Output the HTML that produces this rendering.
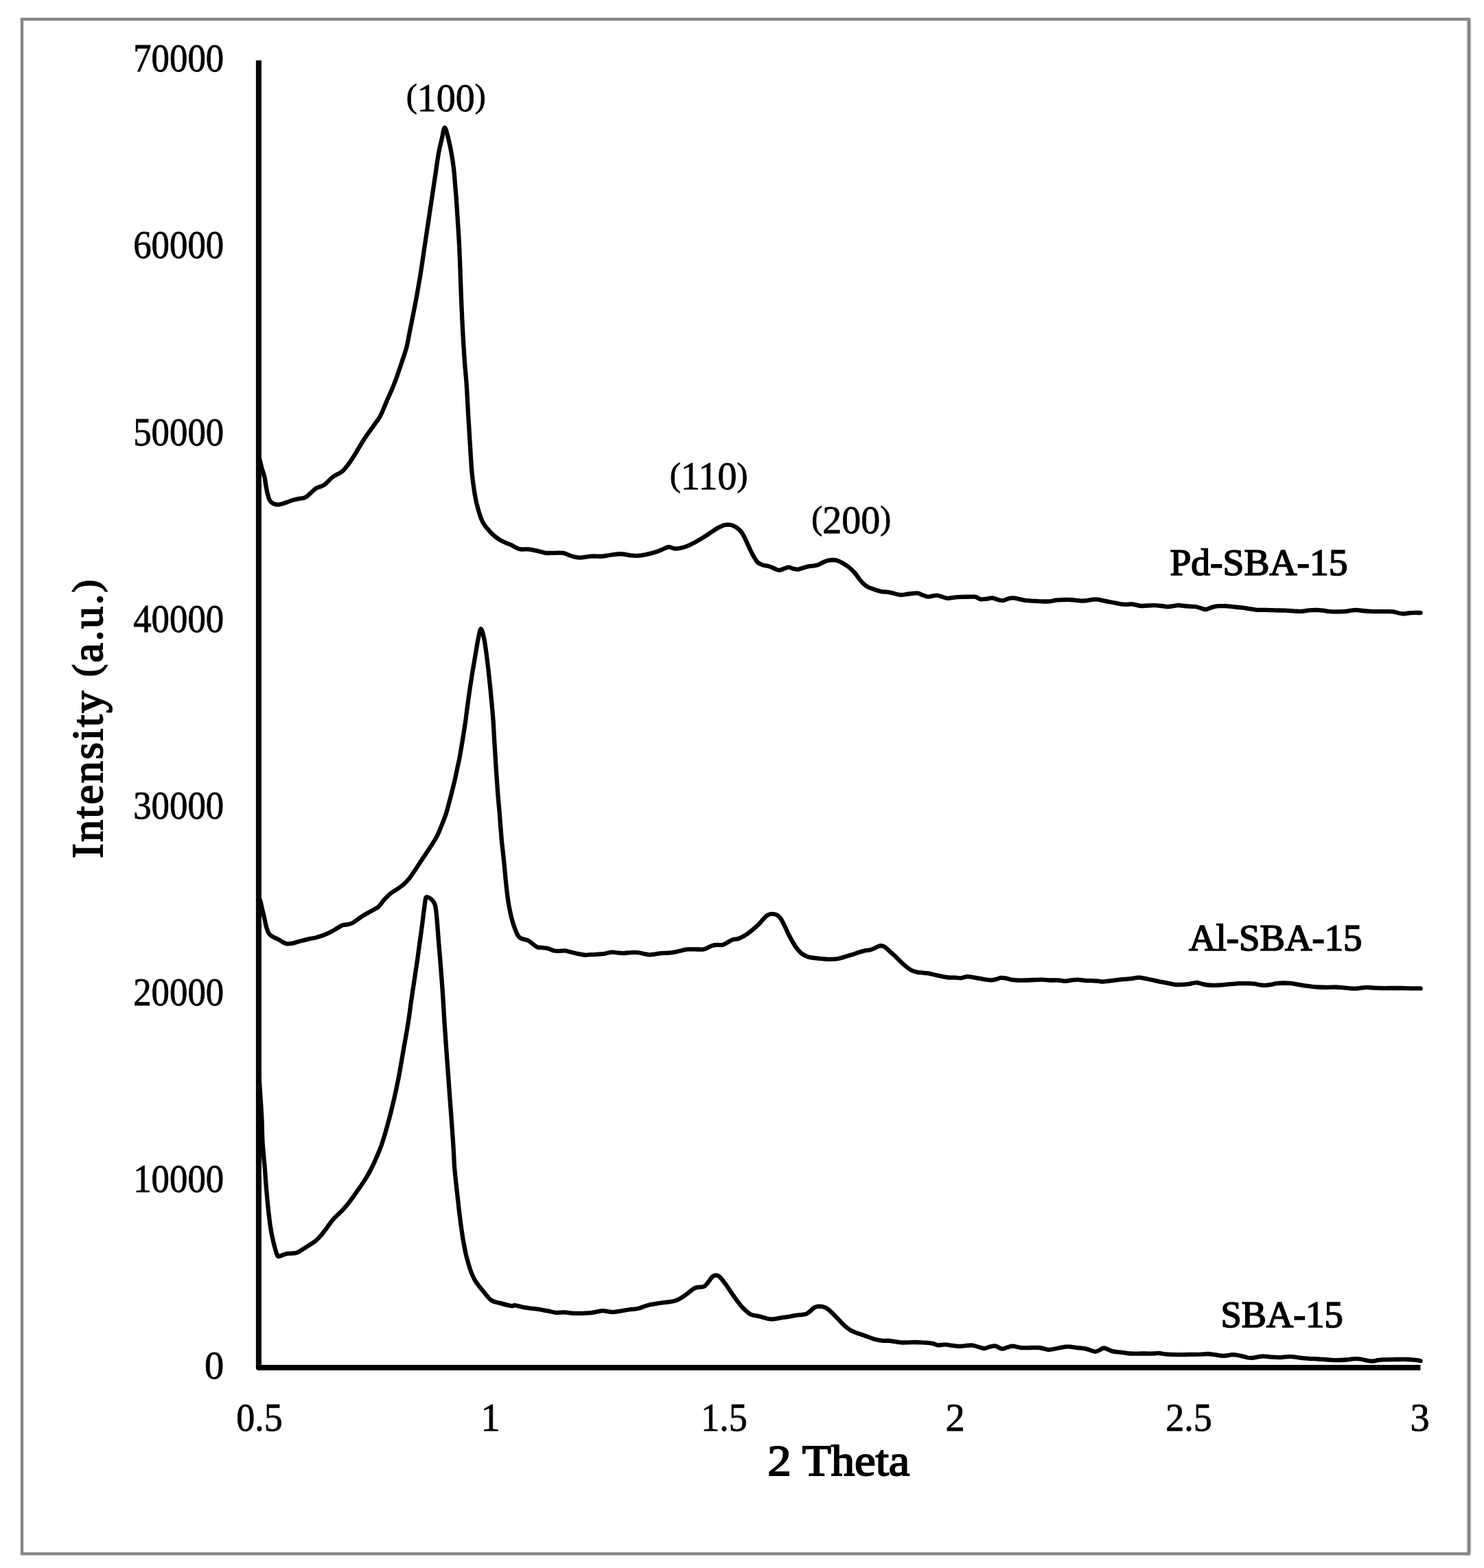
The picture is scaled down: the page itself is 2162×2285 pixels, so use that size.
<!DOCTYPE html>
<html lang="en"><head><meta charset="utf-8"><title>XRD patterns</title>
<style>html,body{margin:0;padding:0;background:#fff}svg{display:block}text{font-family:'Liberation Serif', 'DejaVu Serif', serif;fill:#000}.tick{font-size:56.5px;stroke:#000;stroke-width:0.8px}.pk{font-size:56px;stroke:#000;stroke-width:0.8px}.par{font-size:48px}.tpar{font-size:55px}.lbl{font-size:54.5px;stroke:#000;stroke-width:1.7px}.ttl{font-size:64px;stroke:#000;stroke-width:2px}.crv{fill:none;stroke:#000;stroke-width:6.3;stroke-linecap:round;stroke-linejoin:round}</style></head><body>
<svg xmlns="http://www.w3.org/2000/svg" width="2162" height="2285" viewBox="0 0 2162 2285">
<rect x="0" y="0" width="2162" height="2285" fill="#fff"/>
<line x1="2140" y1="28" x2="2140" y2="2264" stroke="#dcdcdc" stroke-width="7.4"/><rect x="32" y="28" width="2108" height="2236.3" fill="none" stroke="#858585" stroke-width="4.3"/>
<path class="crv" d="M376.7,664.0C376.9,664.8 377.3,665.7 378.1,668.8C378.9,671.9 380.4,678.1 381.6,682.5C382.8,686.9 384.4,691.0 385.4,695.3C386.4,699.6 386.7,703.8 387.5,708.1C388.3,712.4 389.2,717.5 390.1,720.9C391.0,724.3 391.7,726.6 392.6,728.5C393.5,730.4 394.2,731.1 395.6,732.2C397.0,733.3 399.1,734.3 400.9,734.9C402.7,735.4 404.3,735.6 406.2,735.4C408.2,735.2 410.3,734.5 412.6,733.8C415.0,733.1 417.6,732.0 420.1,731.1C422.6,730.2 425.1,729.2 427.6,728.5C430.1,727.8 432.5,727.3 435.0,726.9C437.5,726.4 440.5,726.3 442.5,725.8C444.4,725.3 445.2,724.8 446.8,723.7C448.4,722.5 450.3,720.5 452.1,718.9C453.9,717.3 455.8,715.4 457.4,714.1C459.0,712.7 459.9,711.8 461.7,710.9C463.5,710.0 466.3,709.5 468.1,708.7C469.9,708.0 470.7,707.8 472.3,706.6C473.9,705.5 475.9,703.5 477.7,701.8C479.5,700.1 481.4,697.9 483.0,696.5C484.6,695.1 485.7,694.3 487.3,693.3C488.9,692.3 490.8,691.6 492.6,690.6C494.4,689.6 496.2,688.8 497.9,687.4C499.7,686.0 501.5,684.1 503.3,682.1C505.0,680.0 506.8,677.6 508.6,675.2C510.4,672.7 512.1,669.9 513.9,667.2C515.7,664.4 517.5,661.6 519.3,658.6C521.0,655.7 522.8,652.5 524.6,649.6C526.4,646.6 528.1,643.8 529.9,641.0C531.7,638.3 533.5,635.6 535.2,633.0C537.0,630.5 538.8,628.1 540.6,625.6C542.4,623.1 544.1,620.6 545.9,618.1C547.7,615.6 549.6,613.1 551.2,610.7C552.8,608.2 553.3,608.0 555.5,603.2C557.7,598.4 561.4,589.2 564.5,582.0C567.6,574.8 570.6,568.9 574.1,559.9C577.6,550.9 582.3,536.8 585.3,527.9C588.3,519.0 590.3,513.7 592.2,506.6C594.1,499.5 594.4,496.0 596.5,485.3C598.6,474.6 602.3,456.8 605.0,442.6C607.7,428.4 610.5,412.1 612.5,400.0C614.5,387.9 615.8,378.1 617.0,370.0C618.2,361.9 618.5,359.6 619.8,351.2C621.1,342.8 623.0,329.9 624.6,319.3C626.2,308.7 627.8,298.0 629.4,287.3C631.0,276.6 632.6,266.0 634.2,255.3C635.8,244.6 637.4,232.2 639.0,223.3C640.6,214.4 642.3,208.2 643.8,202.0C645.3,195.8 646.3,186.0 647.9,186.0C649.5,186.0 651.6,195.8 653.2,202.0C654.8,208.2 656.4,216.2 657.7,223.3C659.0,230.4 660.0,237.5 660.9,244.6C661.8,251.7 662.2,258.8 662.8,265.9C663.4,273.0 664.0,278.4 664.6,287.3C665.2,296.2 666.0,308.7 666.7,319.3C667.4,329.9 668.1,340.1 668.7,351.0C669.3,361.9 669.8,374.3 670.2,385.0C670.6,395.7 670.9,405.3 671.2,415.0C671.6,424.7 671.8,431.3 672.3,443.0C672.8,454.7 673.5,470.8 674.3,485.0C675.1,499.2 676.1,515.5 677.0,528.0C677.9,540.5 678.9,548.0 679.7,560.0C680.5,572.0 681.3,589.8 681.9,600.0C682.5,610.2 682.7,614.2 683.2,621.3C683.6,628.4 684.1,635.5 684.5,642.6C685.0,649.8 685.4,656.9 685.8,664.0C686.3,671.1 686.7,679.1 687.2,685.3C687.7,691.5 688.4,695.9 689.0,701.3C689.7,706.6 690.3,711.9 691.2,717.3C692.0,722.6 693.2,728.3 694.3,733.3C695.5,738.2 696.8,743.0 698.1,747.1C699.3,751.2 700.4,754.6 701.8,757.8C703.2,761.0 704.7,763.6 706.6,766.3C708.5,769.0 710.7,771.3 713.0,773.8C715.3,776.3 718.0,779.1 720.5,781.2C723.0,783.4 725.3,785.0 727.9,786.6C730.6,788.2 733.6,789.6 736.5,790.8C739.3,792.1 742.7,793.2 745.0,794.2C747.2,795.3 747.7,796.2 750.0,797.2C752.3,798.3 755.3,799.9 758.5,800.4C761.7,801.0 765.3,800.1 769.2,800.4C773.1,800.8 777.7,801.7 782.0,802.6C786.2,803.4 790.5,805.2 794.8,805.8C799.0,806.3 803.3,805.8 807.6,805.8C811.8,805.8 816.8,805.2 820.4,805.8C823.9,806.3 826.0,808.0 828.9,809.0C831.7,810.0 834.6,811.1 837.4,811.7C840.3,812.3 842.8,812.7 845.9,812.6C849.1,812.5 853.4,811.4 856.6,811.1C859.8,810.7 861.6,810.5 865.1,810.4C868.7,810.4 874.0,810.9 877.9,810.7C881.8,810.4 885.0,809.5 888.6,809.0C892.1,808.4 896.1,807.7 899.3,807.5C902.5,807.2 904.6,807.1 907.8,807.5C911.0,807.8 914.9,809.0 918.4,809.4C922.0,809.8 925.6,810.0 929.1,809.8C932.7,809.6 935.9,809.1 939.8,808.3C943.7,807.6 948.6,806.5 952.6,805.3C956.5,804.2 959.7,802.8 963.2,801.5C966.8,800.1 970.7,797.6 973.9,797.2C977.1,796.9 979.6,799.1 982.4,799.4C985.3,799.6 987.7,799.5 990.9,798.9C994.1,798.3 998.0,797.2 1001.6,795.7C1005.2,794.3 1008.4,792.5 1012.3,790.4C1016.2,788.3 1021.1,785.4 1025.1,782.9C1029.0,780.5 1032.2,778.2 1035.7,775.9C1039.3,773.6 1043.2,770.9 1046.4,769.1C1049.6,767.3 1052.4,766.0 1054.9,765.2C1057.4,764.5 1059.2,764.5 1061.3,764.6C1063.4,764.7 1065.6,765.1 1067.7,765.9C1069.8,766.7 1072.0,767.8 1074.1,769.5C1076.2,771.2 1078.5,773.2 1080.5,775.9C1082.4,778.6 1084.0,781.9 1085.8,785.5C1087.6,789.1 1089.2,793.1 1091.2,797.2C1093.1,801.3 1095.4,806.3 1097.5,810.0C1099.7,813.8 1101.6,817.4 1103.9,819.6C1106.3,821.9 1108.8,822.5 1111.7,823.5C1114.6,824.4 1118.3,824.6 1121.3,825.6C1124.3,826.5 1127.5,828.3 1129.9,829.2C1132.2,830.1 1133.0,831.0 1135.2,830.9C1137.3,830.8 1140.3,829.3 1142.6,828.6C1145.0,827.9 1146.9,826.7 1149.0,826.7C1151.2,826.7 1153.3,828.0 1155.4,828.6C1157.6,829.1 1159.7,829.9 1161.8,829.9C1164.0,829.8 1165.7,828.9 1168.2,828.1C1170.7,827.4 1173.9,826.2 1176.8,825.6C1179.6,825.0 1182.8,824.9 1185.3,824.5C1187.8,824.1 1189.2,824.2 1191.7,823.2C1194.2,822.3 1197.7,820.0 1200.2,819.0C1202.7,817.9 1204.5,817.3 1206.6,816.8C1208.7,816.3 1210.9,816.0 1213.0,816.0C1215.1,816.0 1216.9,816.1 1219.4,816.8C1221.9,817.6 1225.1,819.1 1227.9,820.7C1230.8,822.3 1233.6,824.1 1236.5,826.4C1239.3,828.7 1242.5,831.8 1245.0,834.5C1247.5,837.3 1249.3,840.4 1251.4,843.1C1253.5,845.7 1255.7,848.5 1257.8,850.5C1259.9,852.6 1261.7,853.9 1264.2,855.2C1266.7,856.6 1269.5,857.5 1272.7,858.6C1275.9,859.7 1279.5,861.1 1283.4,861.8C1287.3,862.6 1292.6,862.7 1296.2,863.3C1299.7,863.9 1301.8,864.9 1304.7,865.5C1307.5,866.1 1310.0,867.0 1313.2,867.0C1316.4,867.0 1320.0,865.9 1323.9,865.5C1327.8,865.0 1333.1,864.0 1336.7,864.4C1340.2,864.7 1342.5,866.7 1345.2,867.6C1347.9,868.5 1349.5,869.7 1352.7,869.7C1355.9,869.7 1361.0,867.6 1364.4,867.6C1367.8,867.6 1370.3,869.0 1372.9,869.7C1375.6,870.4 1377.2,871.7 1380.4,871.9C1383.6,872.0 1388.4,870.7 1392.1,870.4C1395.8,870.0 1398.1,870.0 1402.8,869.9C1407.4,869.8 1415.7,869.2 1420.0,869.7C1424.3,870.2 1425.7,872.6 1428.5,873.1C1431.4,873.6 1434.2,873.1 1437.1,872.8C1439.9,872.5 1442.7,871.2 1445.6,871.4C1448.4,871.6 1451.6,873.3 1454.1,874.0C1456.7,874.6 1458.4,875.4 1460.9,875.2C1463.5,874.9 1466.9,872.9 1469.5,872.3C1472.0,871.6 1473.7,871.3 1476.3,871.4C1478.8,871.5 1482.0,872.5 1484.8,873.1C1487.7,873.7 1490.2,874.4 1493.3,874.8C1496.5,875.2 1500.2,875.4 1503.6,875.7C1507.0,875.9 1510.4,876.0 1513.8,876.2C1517.2,876.3 1521.2,876.5 1524.1,876.5C1526.9,876.5 1528.3,876.5 1530.9,876.2C1533.4,875.8 1536.3,874.8 1539.4,874.5C1542.5,874.1 1546.2,874.1 1549.6,874.0C1553.0,873.9 1556.7,873.8 1559.9,874.0C1563.0,874.1 1565.6,874.5 1568.4,874.8C1571.2,875.1 1574.1,875.7 1576.9,875.7C1579.8,875.7 1582.9,875.2 1585.5,874.8C1588.0,874.5 1590.0,873.8 1592.3,873.6C1594.6,873.4 1596.5,873.3 1599.1,873.6C1601.7,873.9 1604.8,874.8 1607.6,875.3C1610.5,875.9 1613.3,876.5 1616.2,877.0C1619.0,877.6 1621.8,878.2 1624.7,878.7C1627.5,879.3 1630.7,880.1 1633.2,880.4C1635.8,880.8 1637.5,880.8 1640.0,880.8C1642.6,880.8 1646.0,880.3 1648.6,880.4C1651.1,880.6 1653.1,881.2 1655.4,881.6C1657.7,882.1 1659.4,882.9 1662.2,883.0C1665.1,883.1 1669.0,882.6 1672.5,882.5C1675.9,882.4 1679.3,882.1 1682.7,882.2C1686.1,882.2 1689.8,882.7 1692.9,883.0C1696.0,883.3 1698.6,884.2 1701.4,884.2C1704.3,884.2 1707.4,883.4 1710.0,883.0C1712.5,882.6 1714.2,882.0 1716.8,882.0C1719.4,882.0 1722.5,882.7 1725.3,883.0C1728.2,883.3 1731.2,883.5 1733.9,883.7C1736.6,883.9 1738.9,883.6 1741.5,884.0C1744.1,884.4 1746.9,885.6 1749.5,886.3C1752.1,887.0 1754.1,888.3 1757.0,888.0C1759.9,887.7 1763.8,885.4 1766.8,884.6C1769.9,883.8 1772.2,883.4 1775.4,883.2C1778.5,883.0 1782.2,883.0 1785.6,883.2C1789.0,883.4 1792.1,883.9 1795.8,884.2C1799.5,884.6 1803.8,885.0 1807.8,885.4C1811.7,885.9 1815.7,886.6 1819.7,887.1C1823.7,887.7 1827.4,888.6 1831.6,888.8C1835.9,889.1 1840.7,888.8 1845.3,888.8C1849.8,888.9 1854.4,889.2 1858.9,889.4C1863.5,889.5 1868.0,889.5 1872.6,889.7C1877.1,889.9 1882.2,890.4 1886.2,890.6C1890.2,890.8 1893.0,891.1 1896.5,890.9C1899.9,890.7 1903.3,889.7 1906.7,889.4C1910.1,889.0 1913.5,888.8 1916.9,888.8C1920.3,888.9 1923.8,889.3 1927.2,889.7C1930.6,890.1 1934.0,890.8 1937.4,891.1C1940.8,891.4 1944.2,891.4 1947.6,891.4C1951.0,891.4 1954.5,891.4 1957.9,891.1C1961.3,890.8 1965.3,890.1 1968.1,889.7C1970.9,889.3 1972.1,888.8 1974.9,888.8C1977.8,888.9 1981.7,889.7 1985.2,890.0C1988.6,890.4 1991.7,890.7 1995.4,890.9C1999.1,891.1 2003.4,891.0 2007.3,891.1C2011.3,891.1 2015.6,891.0 2019.3,891.1C2023.0,891.1 2026.4,891.0 2029.5,891.4C2032.6,891.8 2035.5,892.9 2038.0,893.5C2040.6,894.0 2042.6,894.5 2044.9,894.5C2047.1,894.5 2049.1,893.7 2051.7,893.5C2054.2,893.2 2057.2,892.8 2060.2,892.8C2063.2,892.7 2068.0,893.1 2069.6,893.1"/>
<path class="crv" d="M376.9,1306.1C377.4,1307.6 379.0,1312.0 379.9,1315.4C380.8,1318.8 381.5,1322.9 382.4,1326.5C383.2,1330.1 384.3,1333.7 385.0,1336.8C385.7,1339.9 386.1,1342.8 386.7,1345.3C387.3,1347.8 387.7,1349.8 388.4,1352.1C389.1,1354.4 389.9,1357.1 390.9,1358.9C391.9,1360.8 392.9,1362.0 394.3,1363.2C395.7,1364.4 397.6,1365.3 399.5,1366.2C401.4,1367.1 403.4,1367.6 405.4,1368.7C407.4,1369.8 409.3,1371.5 411.4,1372.6C413.5,1373.7 415.5,1375.0 418.2,1375.3C420.9,1375.6 424.2,1375.0 427.6,1374.3C430.9,1373.7 434.7,1372.1 438.2,1371.2C441.8,1370.2 445.3,1369.4 448.9,1368.6C452.4,1367.8 456.0,1367.3 459.6,1366.5C463.1,1365.6 466.7,1364.6 470.2,1363.3C473.8,1361.9 477.3,1360.3 480.9,1358.6C484.4,1356.8 488.5,1354.3 491.5,1352.6C494.6,1350.9 496.2,1349.3 499.0,1348.3C501.8,1347.4 505.9,1347.6 508.6,1346.8C511.3,1346.1 512.1,1345.8 515.0,1344.1C517.8,1342.4 522.1,1338.9 525.7,1336.6C529.2,1334.3 532.0,1332.7 536.3,1330.2C540.6,1327.7 547.7,1324.3 551.3,1321.5C554.9,1318.7 555.6,1316.0 557.7,1313.5C559.8,1311.0 561.9,1308.7 564.1,1306.5C566.3,1304.3 568.5,1302.3 571.0,1300.5C573.5,1298.7 576.1,1297.5 579.0,1295.5C581.9,1293.5 585.3,1291.2 588.3,1288.5C591.2,1285.8 594.1,1282.9 596.7,1279.6C599.3,1276.3 601.5,1272.9 604.1,1268.9C606.8,1265.0 609.8,1260.2 612.6,1255.9C615.5,1251.6 618.4,1247.3 621.2,1243.0C624.1,1238.7 627.0,1234.4 629.7,1230.1C632.4,1225.8 634.9,1221.9 637.2,1217.3C639.5,1212.7 641.5,1207.6 643.6,1202.3C645.7,1197.0 648.0,1191.7 650.0,1185.3C652.0,1178.9 653.9,1171.1 655.8,1164.0C657.7,1156.9 659.5,1149.7 661.2,1142.6C662.9,1135.5 664.4,1128.4 665.9,1121.3C667.4,1114.2 668.8,1108.5 670.3,1100.0C671.8,1091.5 673.9,1079.0 675.2,1070.6C676.6,1062.1 677.2,1058.2 678.4,1049.3C679.6,1040.4 681.1,1028.0 682.6,1017.3C684.1,1006.6 685.7,996.0 687.4,985.3C689.1,974.6 691.3,962.2 692.8,953.3C694.3,944.4 695.2,938.1 696.5,932.0C697.8,925.9 699.2,916.5 700.7,916.5C702.2,916.5 704.2,925.9 705.5,932.0C706.8,938.1 707.5,944.4 708.7,953.3C709.9,962.2 711.3,974.6 712.5,985.3C713.7,996.0 714.7,1006.6 715.7,1017.3C716.7,1028.0 717.7,1038.7 718.5,1049.3C719.3,1059.9 719.8,1072.5 720.3,1081.0C720.8,1089.5 721.1,1093.3 721.5,1100.0C721.9,1106.7 722.3,1114.2 722.8,1121.3C723.3,1128.4 723.8,1135.5 724.3,1142.6C724.8,1149.7 725.3,1156.9 725.9,1164.0C726.5,1171.1 727.2,1178.2 727.8,1185.3C728.4,1192.4 728.8,1199.5 729.4,1206.6C730.0,1213.7 730.5,1220.7 731.2,1227.9C731.9,1235.1 732.8,1242.5 733.6,1249.7C734.4,1256.9 735.0,1264.2 735.7,1271.3C736.4,1278.5 737.0,1285.5 737.8,1292.6C738.6,1299.8 739.5,1307.6 740.5,1314.0C741.5,1320.4 742.6,1326.0 743.7,1331.0C744.8,1336.0 745.8,1339.9 746.9,1343.8C748.1,1347.7 749.4,1351.3 750.6,1354.5C751.9,1357.7 753.0,1360.9 754.4,1363.0C755.7,1365.1 757.0,1366.3 758.6,1367.3C760.2,1368.2 762.2,1368.3 764.0,1368.9C765.7,1369.4 767.5,1369.6 769.3,1370.5C771.1,1371.4 772.9,1372.9 774.6,1374.2C776.4,1375.5 778.4,1377.4 780.0,1378.5C781.6,1379.5 782.6,1380.2 784.2,1380.6C785.8,1381.0 787.6,1380.7 789.6,1380.9C791.5,1381.1 794.0,1381.3 795.9,1381.7C797.9,1382.1 799.5,1382.7 801.3,1383.3C803.1,1383.8 804.8,1384.7 806.6,1385.2C808.4,1385.6 810.2,1385.8 811.9,1385.9C813.7,1386.0 815.5,1385.8 817.3,1385.7C819.0,1385.6 820.8,1385.3 822.6,1385.4C824.4,1385.5 826.0,1386.0 827.9,1386.5C829.9,1386.9 832.2,1387.5 834.3,1388.1C836.5,1388.6 838.6,1389.2 840.7,1389.7C842.9,1390.1 845.0,1390.6 847.1,1390.9C849.3,1391.3 851.9,1391.7 853.5,1391.8C855.1,1391.8 854.3,1391.4 856.6,1391.3C858.9,1391.1 863.4,1391.1 867.3,1390.8C871.2,1390.6 876.2,1390.3 880.1,1389.8C884.0,1389.2 887.5,1387.9 890.7,1387.6C893.9,1387.4 896.4,1388.0 899.3,1388.3C902.1,1388.5 904.6,1389.2 907.8,1389.1C911.0,1389.1 914.9,1388.2 918.4,1388.1C922.0,1387.9 925.9,1387.8 929.1,1388.1C932.3,1388.3 934.8,1389.2 937.6,1389.8C940.5,1390.3 943.3,1391.2 946.2,1391.3C949.0,1391.4 951.8,1390.8 954.7,1390.4C957.5,1390.0 960.0,1389.4 963.2,1389.1C966.4,1388.8 970.3,1389.0 973.9,1388.7C977.4,1388.4 981.3,1387.8 984.5,1387.2C987.7,1386.6 990.2,1385.7 993.1,1385.1C995.9,1384.4 998.4,1383.7 1001.6,1383.4C1004.8,1383.1 1008.4,1383.4 1012.3,1383.4C1016.2,1383.4 1021.9,1383.8 1025.1,1383.4C1028.3,1382.9 1029.3,1381.7 1031.4,1380.8C1033.6,1379.9 1035.7,1378.7 1037.8,1378.0C1040.0,1377.4 1041.8,1377.1 1044.2,1377.0C1046.7,1376.8 1050.3,1377.5 1052.8,1377.0C1055.3,1376.4 1056.7,1375.1 1059.2,1373.8C1061.7,1372.5 1064.9,1370.1 1067.7,1369.1C1070.5,1368.1 1072.8,1369.1 1076.2,1367.8C1079.7,1366.5 1085.1,1363.4 1088.5,1361.2C1092.0,1358.9 1094.2,1356.8 1097.1,1354.3C1099.9,1351.9 1103.0,1349.2 1105.6,1346.7C1108.1,1344.1 1110.3,1341.2 1112.4,1339.0C1114.5,1336.8 1116.4,1334.7 1118.4,1333.5C1120.4,1332.3 1122.2,1331.9 1124.3,1331.8C1126.5,1331.7 1129.0,1332.0 1131.2,1333.0C1133.3,1334.1 1135.3,1335.7 1137.1,1338.1C1139.0,1340.6 1140.4,1343.8 1142.3,1347.5C1144.1,1351.2 1146.1,1356.1 1148.2,1360.3C1150.4,1364.6 1152.8,1369.3 1155.1,1373.1C1157.3,1377.0 1159.6,1380.5 1161.9,1383.3C1164.2,1386.2 1166.1,1388.3 1168.7,1390.2C1171.3,1392.0 1174.1,1393.4 1177.2,1394.4C1180.4,1395.4 1183.8,1395.7 1187.5,1396.1C1191.2,1396.6 1195.4,1397.1 1199.4,1397.3C1203.4,1397.6 1207.6,1397.9 1211.3,1397.8C1215.0,1397.8 1217.9,1397.7 1221.6,1397.0C1225.3,1396.3 1229.8,1394.7 1233.5,1393.6C1237.2,1392.5 1240.6,1391.5 1243.8,1390.5C1246.9,1389.5 1249.7,1388.4 1252.3,1387.6C1254.8,1386.8 1256.5,1386.1 1259.1,1385.6C1261.7,1385.0 1265.1,1384.9 1267.6,1384.2C1270.2,1383.5 1272.5,1382.5 1274.5,1381.6C1276.4,1380.8 1278.0,1379.7 1279.6,1379.1C1281.1,1378.5 1282.3,1378.1 1283.8,1378.2C1285.4,1378.4 1287.1,1378.8 1289.0,1379.9C1290.8,1381.1 1292.5,1382.9 1294.9,1385.1C1297.3,1387.2 1300.6,1390.0 1303.5,1392.7C1306.3,1395.4 1309.1,1398.6 1312.0,1401.3C1314.8,1404.0 1318.0,1406.9 1320.5,1408.9C1323.1,1411.0 1324.8,1412.4 1327.3,1413.7C1329.9,1415.0 1332.7,1415.9 1335.9,1416.6C1339.0,1417.3 1343.0,1417.4 1346.1,1417.8C1349.2,1418.2 1351.8,1418.3 1354.6,1418.8C1357.5,1419.3 1360.0,1420.2 1363.2,1420.9C1366.3,1421.6 1370.0,1422.5 1373.4,1423.1C1376.8,1423.7 1380.5,1424.4 1383.6,1424.6C1386.8,1424.9 1389.4,1424.5 1392.2,1424.6C1394.9,1424.8 1397.3,1425.7 1400.0,1425.4C1402.7,1425.2 1405.7,1423.4 1408.5,1423.2C1411.4,1423.0 1413.9,1423.8 1417.1,1424.2C1420.2,1424.7 1423.9,1425.4 1427.3,1425.9C1430.7,1426.5 1434.7,1427.3 1437.5,1427.7C1440.4,1428.1 1442.1,1428.4 1444.3,1428.3C1446.6,1428.3 1448.9,1427.7 1451.2,1427.1C1453.4,1426.6 1455.7,1425.2 1458.0,1424.9C1460.3,1424.6 1462.3,1425.0 1464.8,1425.4C1467.4,1425.9 1470.5,1427.1 1473.3,1427.7C1476.2,1428.2 1478.5,1428.4 1481.9,1428.5C1485.3,1428.6 1489.8,1428.6 1493.8,1428.5C1497.8,1428.4 1501.5,1428.1 1505.8,1428.0C1510.0,1427.9 1515.4,1427.6 1519.4,1427.7C1523.4,1427.7 1525.9,1428.4 1529.6,1428.5C1533.3,1428.6 1537.9,1428.3 1541.6,1428.5C1545.3,1428.7 1548.7,1429.7 1551.8,1429.7C1554.9,1429.7 1557.2,1428.8 1560.3,1428.5C1563.5,1428.2 1567.2,1427.6 1570.6,1427.7C1574.0,1427.7 1577.4,1428.6 1580.8,1428.8C1584.2,1429.1 1587.9,1429.0 1591.0,1429.2C1594.2,1429.3 1597.0,1429.5 1599.6,1429.7C1602.1,1429.9 1603.8,1430.6 1606.4,1430.6C1609.0,1430.6 1611.8,1430.1 1614.9,1429.7C1618.1,1429.3 1621.7,1428.8 1625.2,1428.3C1628.6,1427.9 1632.0,1427.5 1635.4,1427.1C1638.8,1426.8 1642.2,1426.7 1645.6,1426.3C1649.0,1425.9 1653.3,1425.2 1655.9,1424.9C1658.4,1424.6 1659.0,1424.4 1661.0,1424.6C1663.0,1424.8 1665.0,1425.4 1667.8,1425.9C1670.6,1426.5 1674.3,1427.2 1678.0,1428.0C1681.7,1428.8 1686.0,1429.8 1690.0,1430.6C1694.0,1431.4 1698.2,1432.1 1701.9,1432.8C1705.6,1433.5 1709.1,1434.5 1712.2,1434.8C1715.2,1435.2 1717.0,1435.0 1720.0,1434.9C1723.0,1434.8 1727.1,1434.6 1730.2,1434.2C1733.4,1433.8 1736.5,1432.9 1738.8,1432.5C1741.0,1432.2 1741.9,1431.8 1743.9,1432.0C1745.9,1432.2 1748.1,1433.2 1750.7,1433.7C1753.3,1434.3 1756.1,1435.1 1759.2,1435.4C1762.4,1435.8 1766.1,1435.9 1769.5,1435.9C1772.9,1435.9 1776.0,1435.7 1779.7,1435.4C1783.4,1435.2 1787.4,1434.6 1791.6,1434.2C1795.9,1433.9 1800.7,1433.4 1805.3,1433.2C1809.8,1433.0 1815.2,1433.1 1818.9,1433.2C1822.6,1433.3 1824.6,1433.4 1827.5,1433.7C1830.3,1434.1 1833.4,1435.1 1836.0,1435.4C1838.6,1435.8 1840.3,1436.0 1842.8,1435.9C1845.4,1435.9 1848.5,1435.4 1851.3,1434.9C1854.2,1434.5 1856.7,1433.6 1859.9,1433.2C1863.0,1432.8 1866.7,1432.6 1870.1,1432.5C1873.5,1432.5 1876.9,1432.5 1880.3,1432.9C1883.8,1433.2 1887.2,1434.0 1890.6,1434.6C1894.0,1435.2 1897.4,1435.8 1900.8,1436.3C1904.2,1436.8 1907.6,1437.3 1911.0,1437.7C1914.5,1438.0 1917.6,1438.3 1921.3,1438.5C1925.0,1438.7 1929.2,1438.8 1933.2,1438.8C1937.2,1438.8 1941.5,1438.5 1945.2,1438.5C1948.9,1438.6 1952.0,1438.9 1955.4,1439.2C1958.8,1439.5 1962.5,1440.0 1965.6,1440.2C1968.8,1440.4 1971.3,1440.6 1974.2,1440.6C1977.0,1440.5 1979.8,1440.0 1982.7,1439.7C1985.5,1439.4 1988.1,1438.8 1991.2,1438.8C1994.3,1438.8 1997.8,1439.5 2001.4,1439.7C2005.1,1439.9 2009.1,1440.0 2013.4,1440.0C2017.7,1440.1 2022.6,1440.0 2027.0,1440.0C2031.5,1440.0 2035.3,1440.0 2040.0,1440.0C2044.7,1440.1 2050.1,1440.2 2055.0,1440.3C2059.9,1440.4 2067.2,1440.4 2069.6,1440.4"/>
<path class="crv" d="M377.0,1562.0C377.2,1564.8 377.6,1570.7 378.1,1578.7C378.6,1586.7 379.6,1600.6 380.2,1610.0C380.8,1619.4 381.3,1626.7 381.6,1635.0C381.9,1643.3 381.9,1652.3 382.3,1660.0C382.6,1667.7 383.3,1674.2 383.9,1681.3C384.4,1688.4 385.2,1695.5 385.8,1702.6C386.4,1709.8 386.8,1716.9 387.4,1724.0C387.9,1731.1 388.5,1738.2 389.2,1745.3C389.8,1752.4 390.5,1759.5 391.3,1766.6C392.1,1773.7 393.0,1781.5 394.0,1787.9C395.0,1794.3 396.0,1799.7 397.2,1805.0C398.3,1810.3 399.8,1815.8 400.9,1819.9C402.1,1824.0 403.3,1827.6 404.1,1829.5C404.9,1831.4 404.6,1831.1 405.7,1831.1C406.8,1831.1 408.5,1830.2 410.5,1829.5C412.6,1828.8 415.5,1827.3 418.0,1826.8C420.5,1826.3 423.1,1826.7 425.4,1826.5C427.7,1826.3 429.9,1826.3 431.8,1825.8C433.8,1825.2 435.0,1824.4 437.2,1823.1C439.3,1821.9 442.1,1819.9 444.6,1818.3C447.1,1816.7 449.8,1815.0 452.1,1813.5C454.4,1812.0 456.5,1810.8 458.5,1809.3C460.4,1807.7 462.0,1806.2 463.8,1804.5C465.6,1802.7 467.4,1800.7 469.1,1798.6C470.9,1796.5 472.7,1794.1 474.5,1791.7C476.3,1789.3 478.0,1786.6 479.8,1784.2C481.6,1781.8 483.0,1779.7 485.1,1777.3C487.3,1774.9 490.1,1772.3 492.6,1769.8C495.1,1767.3 497.8,1764.8 500.1,1762.3C502.4,1759.9 504.3,1757.5 506.5,1754.9C508.6,1752.2 510.7,1749.3 512.9,1746.4C515.0,1743.4 517.1,1740.3 519.3,1737.3C521.4,1734.3 523.5,1731.3 525.7,1728.2C527.8,1725.1 530.1,1721.7 532.0,1718.6C534.0,1715.5 535.6,1712.8 537.4,1709.6C539.2,1706.4 540.9,1703.1 542.7,1699.4C544.5,1695.8 546.3,1691.8 548.0,1687.7C549.8,1683.6 551.9,1678.7 553.4,1674.9C554.9,1671.1 555.7,1669.1 557.0,1665.0C558.3,1660.9 559.7,1656.5 561.4,1650.6C563.1,1644.6 565.4,1636.4 567.3,1629.3C569.2,1622.2 570.9,1615.0 572.6,1607.9C574.3,1600.8 575.9,1593.7 577.4,1586.6C578.9,1579.5 580.4,1572.4 581.7,1565.3C583.0,1558.2 584.2,1551.1 585.4,1544.0C586.6,1536.9 587.9,1529.7 589.1,1522.6C590.4,1515.5 591.7,1508.4 592.9,1501.3C594.1,1494.2 595.2,1486.8 596.2,1480.0C597.2,1473.2 597.8,1467.4 598.8,1460.6C599.8,1453.8 600.9,1446.4 602.0,1439.3C603.1,1432.2 604.1,1425.0 605.2,1417.9C606.3,1410.8 607.4,1403.7 608.4,1396.6C609.4,1389.5 610.2,1382.4 611.2,1375.3C612.2,1368.2 613.2,1361.1 614.2,1354.0C615.2,1346.9 616.1,1338.8 616.9,1332.6C617.7,1326.4 618.4,1320.9 619.0,1316.7C619.6,1312.5 619.6,1308.9 620.8,1307.6C621.9,1306.3 624.3,1307.9 625.9,1308.7C627.5,1309.5 629.0,1310.9 630.2,1312.4C631.5,1313.9 632.6,1315.6 633.4,1317.7C634.2,1319.8 634.5,1322.4 635.0,1325.2C635.5,1328.0 635.6,1330.0 636.1,1334.8C636.6,1339.6 637.2,1347.2 637.7,1354.0C638.2,1360.8 638.7,1368.2 639.3,1375.3C639.9,1382.4 640.5,1389.5 641.1,1396.6C641.7,1403.7 642.2,1410.8 642.8,1417.9C643.3,1425.0 643.9,1432.2 644.4,1439.3C644.9,1446.4 645.4,1453.6 645.8,1460.6C646.2,1467.5 646.6,1474.2 647.0,1481.0C647.4,1487.8 647.8,1494.4 648.3,1501.3C648.8,1508.2 649.3,1515.5 649.8,1522.6C650.3,1529.7 650.8,1536.9 651.3,1544.0C651.8,1551.1 652.4,1558.2 652.9,1565.3C653.4,1572.4 653.9,1579.5 654.4,1586.6C654.9,1593.7 655.5,1600.8 656.0,1607.9C656.5,1615.0 657.1,1622.2 657.6,1629.3C658.1,1636.4 658.6,1643.8 659.1,1650.6C659.6,1657.3 660.1,1664.9 660.4,1669.8C660.7,1674.7 660.7,1674.7 661.0,1680.0C661.3,1685.3 661.6,1694.2 662.1,1701.3C662.7,1708.4 663.5,1715.5 664.2,1722.6C665.0,1729.8 665.8,1736.9 666.6,1744.0C667.4,1751.1 668.2,1758.2 669.0,1765.3C669.9,1772.4 670.7,1779.5 671.7,1786.6C672.7,1793.7 673.7,1801.2 674.9,1807.9C676.1,1814.7 677.3,1821.3 678.6,1827.1C680.0,1833.0 681.5,1838.3 682.9,1843.1C684.3,1847.9 685.6,1852.0 687.2,1855.9C688.8,1859.8 690.7,1863.5 692.5,1866.6C694.3,1869.6 696.1,1871.8 697.8,1874.0C699.5,1876.3 699.7,1876.6 702.6,1880.0C705.6,1883.4 711.2,1891.5 715.4,1894.6C719.7,1897.8 723.2,1897.5 728.2,1898.9C733.2,1900.3 741.6,1902.6 745.3,1903.2C748.9,1903.7 747.4,1901.9 750.0,1902.1C752.6,1902.4 757.1,1904.0 760.7,1904.7C764.2,1905.4 767.4,1905.8 771.3,1906.4C775.2,1906.9 779.9,1907.2 784.1,1907.9C788.4,1908.5 792.6,1909.4 796.9,1910.2C801.2,1911.0 805.4,1912.4 809.7,1912.8C814.0,1913.1 818.2,1912.2 822.5,1912.3C826.8,1912.5 831.0,1913.6 835.3,1913.8C839.6,1914.1 843.8,1913.9 848.1,1913.8C852.3,1913.7 857.3,1913.6 860.9,1913.2C864.4,1912.8 866.6,1912.2 869.4,1911.7C872.2,1911.2 875.1,1910.3 877.9,1910.2C880.8,1910.1 884.0,1911.0 886.5,1911.3C888.9,1911.6 890.0,1912.2 892.9,1912.1C895.7,1912.0 899.6,1911.2 903.5,1910.6C907.4,1910.0 912.0,1909.1 916.3,1908.5C920.6,1907.9 925.6,1907.7 929.1,1907.0C932.7,1906.3 934.8,1905.2 937.6,1904.2C940.5,1903.3 943.0,1902.3 946.2,1901.5C949.4,1900.7 953.6,1900.1 956.8,1899.6C960.0,1899.0 962.2,1898.7 965.4,1898.3C968.6,1897.9 972.8,1897.7 976.0,1897.2C979.2,1896.7 981.7,1896.3 984.5,1895.3C987.4,1894.3 990.2,1892.7 993.1,1891.0C995.9,1889.3 998.8,1887.2 1001.6,1885.1C1004.4,1882.9 1007.6,1879.8 1010.1,1878.2C1012.6,1876.7 1014.0,1876.4 1016.5,1875.9C1019.0,1875.4 1022.6,1876.2 1025.1,1875.0C1027.5,1873.9 1029.5,1871.3 1031.4,1869.1C1033.4,1866.8 1035.0,1863.4 1036.8,1861.6C1038.6,1859.8 1040.3,1858.7 1042.1,1858.4C1043.9,1858.1 1045.5,1858.5 1047.4,1859.9C1049.4,1861.3 1051.5,1864.1 1053.6,1866.8C1055.8,1869.5 1058.2,1872.9 1060.5,1876.2C1062.7,1879.5 1065.0,1883.2 1067.3,1886.4C1069.6,1889.7 1071.8,1892.8 1074.1,1895.8C1076.4,1898.8 1078.7,1901.8 1080.9,1904.3C1083.2,1906.9 1085.5,1909.2 1087.8,1911.2C1090.0,1913.1 1092.0,1914.9 1094.6,1915.9C1097.1,1917.0 1100.3,1917.0 1103.1,1917.7C1106.0,1918.3 1109.1,1919.0 1111.6,1919.7C1114.2,1920.4 1116.2,1921.3 1118.5,1921.7C1120.7,1922.2 1122.7,1922.4 1125.3,1922.3C1127.8,1922.1 1131.0,1921.5 1133.8,1921.1C1136.7,1920.6 1139.5,1920.1 1142.3,1919.7C1145.2,1919.3 1148.0,1919.0 1150.9,1918.5C1153.7,1918.0 1156.6,1917.3 1159.4,1916.8C1162.2,1916.3 1165.4,1916.1 1167.9,1915.8C1170.5,1915.4 1172.8,1915.4 1174.8,1914.6C1176.7,1913.8 1178.2,1912.5 1179.9,1911.2C1181.6,1909.8 1183.3,1907.6 1185.0,1906.4C1186.7,1905.2 1188.4,1904.4 1190.1,1904.0C1191.8,1903.6 1193.5,1903.7 1195.2,1903.8C1196.9,1904.0 1198.5,1904.0 1200.3,1904.7C1202.2,1905.3 1204.3,1906.3 1206.3,1907.8C1208.3,1909.2 1210.1,1911.1 1212.3,1913.2C1214.4,1915.3 1216.8,1917.9 1219.1,1920.2C1221.4,1922.6 1223.7,1925.1 1225.9,1927.4C1228.2,1929.7 1230.5,1932.0 1232.8,1933.9C1235.0,1935.8 1237.3,1937.5 1239.6,1938.8C1241.8,1940.1 1243.8,1940.9 1246.4,1941.9C1249.0,1942.9 1252.1,1943.8 1254.9,1944.8C1257.8,1945.8 1260.6,1946.8 1263.5,1947.8C1266.3,1948.9 1269.1,1950.1 1272.0,1950.9C1274.8,1951.8 1278.0,1952.5 1280.5,1953.0C1283.1,1953.4 1284.8,1953.7 1287.3,1953.8C1289.9,1954.0 1293.0,1953.6 1295.9,1953.8C1298.7,1954.0 1301.5,1954.8 1304.4,1955.2C1307.2,1955.6 1309.8,1956.2 1312.9,1956.4C1316.0,1956.6 1319.7,1956.4 1323.2,1956.4C1326.6,1956.3 1330.0,1956.0 1333.4,1956.0C1336.8,1956.0 1340.5,1956.2 1343.6,1956.4C1346.8,1956.5 1349.4,1956.6 1352.2,1956.9C1354.9,1957.2 1357.6,1957.5 1360.0,1958.1C1362.4,1958.7 1363.7,1960.1 1366.5,1960.3C1369.4,1960.5 1374.0,1959.2 1377.2,1959.3C1380.4,1959.3 1382.5,1960.3 1385.7,1960.7C1388.9,1961.2 1393.2,1961.7 1396.4,1961.8C1399.6,1961.9 1401.7,1961.6 1404.9,1961.4C1408.1,1961.1 1412.4,1960.1 1415.6,1960.3C1418.8,1960.5 1421.1,1961.7 1424.1,1962.5C1427.1,1963.2 1430.8,1964.9 1433.7,1965.0C1436.5,1965.1 1438.4,1963.5 1441.2,1962.9C1443.9,1962.3 1447.0,1960.9 1450.0,1961.4C1453.0,1961.9 1456.5,1965.3 1459.4,1965.7C1462.2,1966.0 1464.4,1964.1 1467.1,1963.5C1469.8,1962.8 1472.2,1961.7 1475.6,1961.7C1479.0,1961.8 1483.3,1963.6 1487.5,1964.0C1491.8,1964.3 1496.6,1964.0 1501.2,1964.0C1505.7,1964.0 1510.3,1963.5 1514.8,1964.0C1519.4,1964.4 1523.9,1966.8 1528.5,1966.9C1533.0,1967.0 1537.6,1965.2 1542.1,1964.5C1546.7,1963.7 1551.2,1962.3 1555.8,1962.3C1560.3,1962.2 1565.1,1963.5 1569.4,1964.0C1573.7,1964.5 1577.1,1964.4 1581.3,1965.3C1585.6,1966.3 1591.6,1969.3 1595.0,1969.6C1598.4,1969.9 1599.5,1968.2 1601.8,1967.4C1604.1,1966.5 1605.5,1964.2 1608.6,1964.5C1611.8,1964.8 1616.3,1968.0 1620.6,1969.1C1624.8,1970.1 1630.0,1970.2 1634.2,1970.8C1638.5,1971.4 1641.3,1972.2 1646.2,1972.5C1651.0,1972.8 1657.5,1972.5 1663.2,1972.5C1668.9,1972.5 1676.0,1972.6 1680.3,1972.5C1684.5,1972.4 1686.0,1971.8 1688.8,1972.0C1691.6,1972.1 1693.1,1973.0 1697.3,1973.3C1701.6,1973.7 1708.7,1974.1 1714.4,1974.2C1720.1,1974.3 1725.8,1973.9 1731.4,1973.9C1737.1,1973.8 1743.7,1973.8 1748.5,1973.7C1753.3,1973.5 1756.4,1972.9 1760.0,1973.0C1763.6,1973.1 1766.5,1973.7 1770.2,1974.2C1773.9,1974.7 1777.9,1975.9 1782.2,1975.9C1786.4,1975.9 1791.6,1974.2 1795.8,1974.2C1800.1,1974.2 1804.1,1975.2 1807.8,1975.9C1811.5,1976.6 1815.2,1978.0 1818.0,1978.5C1820.8,1978.9 1822.5,1978.9 1824.8,1978.8C1827.1,1978.7 1829.1,1978.0 1831.6,1977.6C1834.2,1977.2 1836.8,1976.4 1840.2,1976.4C1843.6,1976.4 1847.8,1977.3 1852.1,1977.6C1856.4,1977.9 1861.2,1978.3 1865.8,1978.1C1870.3,1978.0 1874.9,1976.7 1879.4,1976.8C1884.0,1976.8 1888.5,1978.0 1893.0,1978.5C1897.6,1979.0 1902.1,1979.5 1906.7,1979.8C1911.2,1980.2 1915.8,1980.2 1920.3,1980.5C1924.9,1980.8 1929.4,1981.3 1934.0,1981.5C1938.5,1981.8 1943.1,1982.2 1947.6,1982.2C1952.2,1982.2 1957.0,1981.9 1961.3,1981.5C1965.5,1981.2 1969.8,1980.3 1973.2,1980.2C1976.6,1980.0 1978.9,1980.1 1981.7,1980.5C1984.6,1980.9 1987.4,1981.9 1990.3,1982.4C1993.1,1982.9 1996.0,1983.6 1998.8,1983.6C2001.6,1983.6 2004.5,1982.6 2007.3,1982.2C2010.2,1981.8 2011.6,1981.6 2015.9,1981.4C2020.1,1981.2 2027.2,1981.1 2032.9,1981.0C2038.6,1981.0 2045.1,1980.9 2050.0,1981.0C2054.8,1981.2 2058.6,1981.5 2061.9,1981.9C2065.2,1982.2 2068.3,1982.9 2069.6,1983.1"/>
<path d="M376.9,88.1 L376.9,1993.0 L2069.4,1993.0" fill="none" stroke="#000" stroke-width="8.05" stroke-linejoin="round"/>
<text class="tick" x="326.2" y="2009.2" text-anchor="end">0</text>
<text class="tick" x="326.2" y="1737.1" text-anchor="end" textLength="132.0" lengthAdjust="spacingAndGlyphs">10000</text>
<text class="tick" x="326.2" y="1464.9" text-anchor="end" textLength="132.0" lengthAdjust="spacingAndGlyphs">20000</text>
<text class="tick" x="326.2" y="1192.8" text-anchor="end" textLength="132.0" lengthAdjust="spacingAndGlyphs">30000</text>
<text class="tick" x="326.2" y="920.7" text-anchor="end" textLength="132.0" lengthAdjust="spacingAndGlyphs">40000</text>
<text class="tick" x="326.2" y="648.6" text-anchor="end" textLength="132.0" lengthAdjust="spacingAndGlyphs">50000</text>
<text class="tick" x="326.2" y="376.4" text-anchor="end" textLength="132.0" lengthAdjust="spacingAndGlyphs">60000</text>
<text class="tick" x="326.2" y="104.3" text-anchor="end" textLength="132.0" lengthAdjust="spacingAndGlyphs">70000</text>
<text class="tick" x="377.9" y="2084.9" text-anchor="middle" textLength="67.5" lengthAdjust="spacingAndGlyphs">0.5</text>
<text class="tick" x="714.7" y="2084.9" text-anchor="middle">1</text>
<text class="tick" x="1054.9" y="2084.9" text-anchor="middle" textLength="67.5" lengthAdjust="spacingAndGlyphs">1.5</text>
<text class="tick" x="1391.7" y="2084.9" text-anchor="middle">2</text>
<text class="tick" x="1731.9" y="2084.9" text-anchor="middle" textLength="67.5" lengthAdjust="spacingAndGlyphs">2.5</text>
<text class="tick" x="2068.7" y="2084.9" text-anchor="middle">3</text>
<text class="pk" x="649.7" y="161.6" text-anchor="middle"><tspan class="par" dy="-5.5">(</tspan><tspan dy="5.5">100</tspan><tspan class="par" dy="-5.5">)</tspan></text>
<text class="pk" x="1032.6" y="713.0" text-anchor="middle"><tspan class="par" dy="-5.5">(</tspan><tspan dy="5.5">110</tspan><tspan class="par" dy="-5.5">)</tspan></text>
<text class="pk" x="1240.3" y="776.7" text-anchor="middle"><tspan class="par" dy="-5.5">(</tspan><tspan dy="5.5">200</tspan><tspan class="par" dy="-5.5">)</tspan></text>
<text class="lbl" x="1704.5" y="838.0" text-anchor="start" textLength="259.0" lengthAdjust="spacingAndGlyphs">Pd-SBA-15</text>
<text class="lbl" x="1732.0" y="1384.5" text-anchor="start" textLength="252.5" lengthAdjust="spacingAndGlyphs">Al-SBA-15</text>
<text class="lbl" x="1778.6" y="1934.0" text-anchor="start" textLength="178.0" lengthAdjust="spacingAndGlyphs">SBA-15</text>
<text class="ttl" x="1221.8" y="2150.0" text-anchor="middle" textLength="207.0" lengthAdjust="spacingAndGlyphs">2 Theta</text>
<text class="ttl" transform="translate(148.6,1046.5) rotate(-90)" x="0" y="0" text-anchor="middle" letter-spacing="2.45">Intensity <tspan class="tpar" dy="-5">(</tspan><tspan dy="5">a.u.</tspan><tspan class="tpar" dy="-5">)</tspan></text>
</svg></body></html>
